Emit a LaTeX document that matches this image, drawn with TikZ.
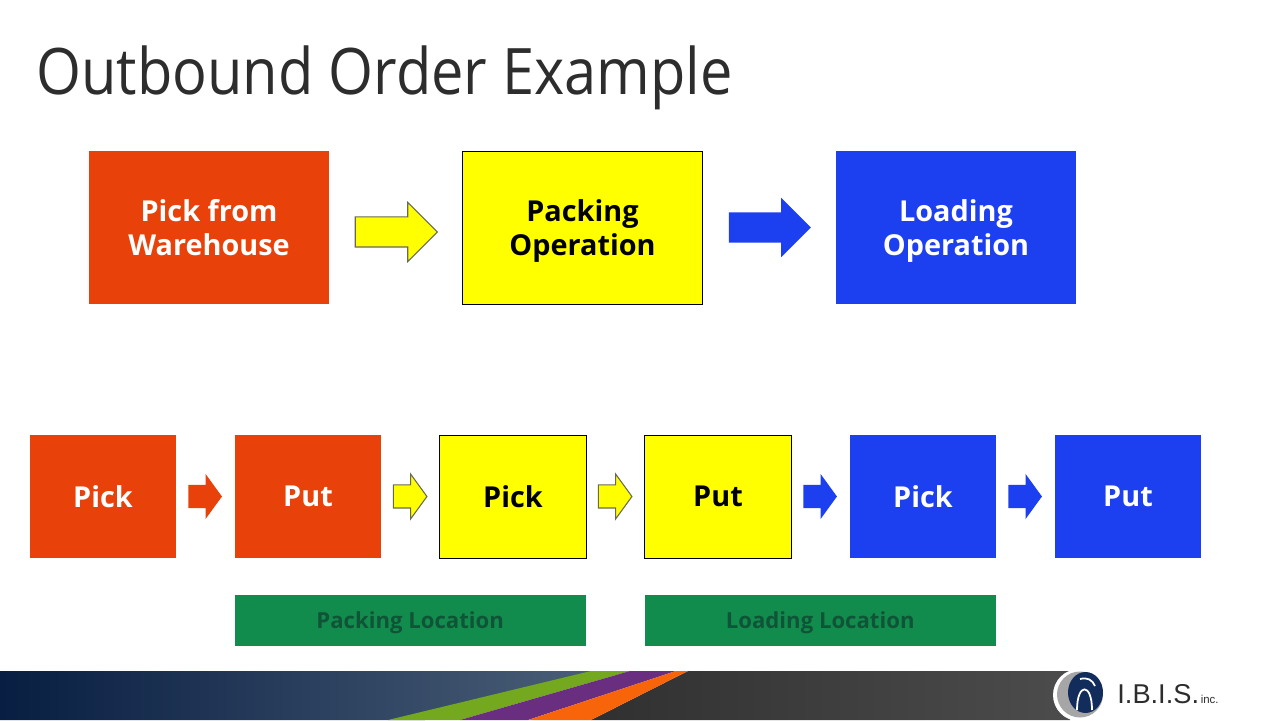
\documentclass[tikz,border=0pt]{standalone}
\usepackage{fontspec}
\setmainfont{Open Sans}
\newfontfamily\titlefont[FakeStretch=0.9]{Open Sans}
\newfontfamily\logofont{Liberation Sans}
\usepackage{xcolor}
\usepackage{tikz}
\definecolor{boxred}{RGB}{232, 66, 10}
\definecolor{boxyellow}{RGB}{255, 255, 0}
\definecolor{boxblue}{RGB}{28, 64, 240}
\definecolor{locgreen}{RGB}{18, 140, 76}
\definecolor{loctext}{RGB}{16, 84, 56}
\definecolor{edgegray}{RGB}{105, 105, 80}
\definecolor{titlegray}{RGB}{45, 45, 45}
\definecolor{navyleft}{RGB}{8, 30, 66}
\definecolor{navyright}{RGB}{78, 98, 122}
\definecolor{stripegreen}{RGB}{116, 168, 30}
\definecolor{stripepurple}{RGB}{106, 46, 128}
\definecolor{stripeorange}{RGB}{248, 100, 10}
\definecolor{footleft}{RGB}{48, 48, 48}
\definecolor{footright}{RGB}{76, 76, 76}
\definecolor{logoblue}{RGB}{18, 44, 92}
\usetikzlibrary{shapes.arrows, positioning}

\begin{document}
\begin{tikzpicture}[
    bigbox/.style={rectangle, minimum width=4.8cm, minimum height=3.06cm, inner sep=0pt,
                   outer sep=0pt, align=center,
                   font=\fontsize{16.4}{19.3}\selectfont\bfseries},
    smallbox/.style={rectangle, minimum width=2.93cm, minimum height=2.46cm, inner sep=0pt,
                     outer sep=0pt, align=center,
                     font=\fontsize{16.4}{19.3}\selectfont\bfseries},
    redfill/.style={fill=boxred, text=white},
    yellowfill/.style={fill=boxyellow, draw=black, line width=0.5pt, text=black},
    bluefill/.style={fill=boxblue, text=white},
    locbar/.style={rectangle, fill=locgreen, text=loctext, minimum width=7.02cm,
                   minimum height=1.02cm, inner sep=0pt, outer sep=0pt, text depth=0pt,
                   font=\fontsize{12.6}{15}\selectfont\bfseries},
    bigarrow/.style={single arrow, single arrow head extend=0.29cm, single arrow tip angle=90,
                     minimum height=1.64cm, inner xsep=0pt, inner ysep=0.29cm, outer sep=0pt,
                     line width=0.6pt, xshift=-0.14cm},
    smallarrow/.style={single arrow, single arrow head extend=0.22cm, single arrow tip angle=108,
                       minimum height=0.67cm, inner xsep=0pt, inner ysep=0.22cm, outer sep=0pt,
                       line width=0.6pt, xshift=-0.09cm}
]
    \useasboundingbox (0,0) rectangle (25.6,14.4);
    \fill[white] (0,0) rectangle (25.6,14.4);

    % Title
    \node[anchor=base west, inner sep=0pt, text=titlegray, font=\titlefont\fontsize{36.5}{40}\selectfont] (title) at (0.72,12.5) {Outbound Order Example};

    % Top row
    \node[bigbox, redfill] (pick) at (4.18,9.85) {Pick from\\Warehouse};
    \node[bigbox, yellowfill, right=2.67cm of pick] (pack) {Packing\\\smash{Operation}};
    \node[bigbox, bluefill, right=2.67cm of pack] (load) {Loading\\\smash{Operation}};

    % Bottom row
    \node[smallbox, redfill] (picka) at (2.06,4.47) {Pick};
    \node[smallbox, redfill, right=1.17cm of picka] (puta) {Put};
    \node[smallbox, yellowfill, right=1.17cm of puta] (pickb) {Pick};
    \node[smallbox, yellowfill, right=1.17cm of pickb] (putb) {Put};
    \node[smallbox, bluefill, right=1.17cm of putb] (pickc) {Pick};
    \node[smallbox, bluefill, right=1.17cm of pickc] (putc) {Put};

    % Locations
    \node[locbar, below right=0.74cm and 0cm of puta.south west] (packloc) {Packing Location};
    \node[locbar, below right=0.74cm and 0cm of putb.south west] (loadloc) {Loading Location};

    % Arrows
    \path (pick) -- node[bigarrow, fill=boxyellow, draw=edgegray, yshift=-0.09cm] (arrowa) {} (pack);
    \path (pack) -- node[bigarrow, fill=boxblue] (arrowb) {} (load);
    \path (picka) -- node[smallarrow, fill=boxred] (arrowc) {} (puta);
    \path (puta) -- node[smallarrow, fill=boxyellow, draw=edgegray] (arrowd) {} (pickb);
    \path (pickb) -- node[smallarrow, fill=boxyellow, draw=edgegray] (arrowe) {} (putb);
    \path (putb) -- node[smallarrow, fill=boxblue] (arrowf) {} (pickc);
    \path (pickc) -- node[smallarrow, fill=boxblue] (arrowg) {} (putc);

    % Footer band
    \shade[left color=navyleft, right color=navyright] (0,0) -- (0,0.98) -- (12.6,0.98) -- (8.5,0) -- cycle;
    \shade[left color=footleft, right color=footright] (11.82,0) -- (13.76,0.98) -- (21.4,0.98) -- (21.4,0) -- cycle;
    \fill[stripegreen] (7.76,0) -- (11.82,0.98) -- (12.6,0.98) -- (9.2,0) -- cycle;
    \fill[stripepurple] (9.2,0) -- (12.6,0.98) -- (13.52,0.98) -- (10.56,0) -- cycle;
    \fill[stripeorange] (10.56,0) -- (13.52,0.98) -- (13.76,0.98) -- (11.82,0) -- cycle;

    % Logo
    \fill[white] (21.58,0.5) circle (0.52);
    \fill[gray!70] (21.6,0.51) circle (0.46);
    \fill[logoblue] (21.71,0.55) ellipse (0.35 and 0.41);
    \draw[white, line width=1pt] (21.54,0.2) .. controls (21.54,0.75) and (21.84,0.75) .. (21.84,0.2);
    \draw[white, line width=1pt] (21.6,0.82) .. controls (21.75,0.86) and (21.85,0.8) .. (21.9,0.68);
    \node[anchor=base west, inner sep=0pt, text=titlegray, font=\logofont\fontsize{15.5}{18}\selectfont] (logotext) at (22.34,0.34) {I.B.I.S.};
    \node[inner sep=0pt, text=titlegray, font=\logofont\fontsize{6.5}{7}\selectfont, right=0.02cm of logotext.base east, anchor=base west] (logoinc) {inc.};
\end{tikzpicture}
\end{document}
